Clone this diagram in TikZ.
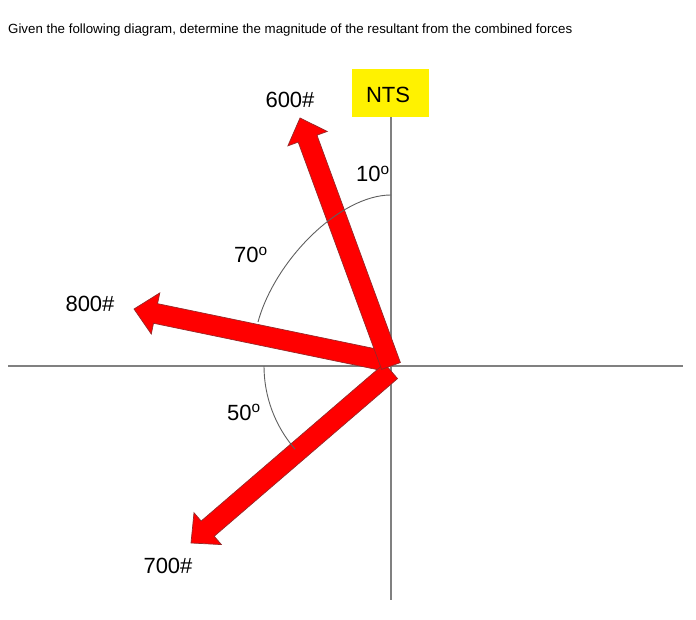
\documentclass[tikz,border=0pt]{standalone}
\usepackage{fontspec}
\setmainfont{Liberation Sans}
\usetikzlibrary{calc}

\definecolor{axisgray}{RGB}{128,128,128}
\definecolor{arcgray}{RGB}{95,95,95}
\definecolor{edgered}{RGB}{150,40,40}

\newcommand{\forcearrow}[2]{%
  \coordinate (#2h) at ($(#2)!22pt!(#1)$);
  \filldraw[forceline]
    ($(#1)!10pt!90:(#2)$) -- ($(#2h)!10pt!90:(#2)$) -- ($(#2h)!21pt!90:(#2)$) -- (#2)
    -- ($(#2h)!21pt!-90:(#2)$) -- ($(#2h)!10pt!-90:(#2)$) -- ($(#1)!10pt!-90:(#2)$) -- cycle;
}

\tikzset{
  forceline/.style={fill=red, draw=edgered, line width=0.7pt, line join=miter},
  axisline/.style={draw=axisgray, line width=1.2pt},
  anglearc/.style={draw=arcgray, line width=0.9pt},
  biglabel/.style={font=\fontsize{22}{26}\selectfont, inner sep=0pt, anchor=base},
}

\begin{document}
\begin{tikzpicture}[x=1pt, y=-1pt]
\useasboundingbox (0,0) rectangle (696,620);
\node[font=\fontsize{13.3}{15}\selectfont, inner sep=0pt, anchor=base west] (q) at (8,34)
  {Given the following diagram, determine the magnitude of the resultant from the combined forces};

% axes
\coordinate (O) at (391,366);
\draw[axisline] (8,366) -- (683,366);
\draw[axisline] (391,70) -- (391,600);

% forces
\coordinate (s800) at (385,361);
\coordinate (t800) at (134,309);
\coordinate (s700) at (391,371);
\coordinate (t700) at (191,543);
\coordinate (s600) at (391,366);
\coordinate (t600) at (300,118);
\forcearrow{s800}{t800}
\forcearrow{s700}{t700}
\forcearrow{s600}{t600}

% angles
\draw[anglearc] (391,195) .. controls (340,195) and (275,260) .. (258,322);
\draw[anglearc] (O) ++(-127,0) arc[start angle=180, end angle=139, radius=127];

\node[fill=yellow, minimum width=77pt, minimum height=48pt, inner sep=0pt] (nts) at (390.5,93) {};
\node[biglabel] (ntstext) at (388,103) {NTS};
\node[biglabel] (f600) at (290,108) {600\#};
\node[biglabel] (f800) at (90,312) {800\#};
\node[biglabel] (f700) at (168,573) {700\#};
\node[biglabel, anchor=base west] (a10) at (356,182) {10\textsuperscript{o}};
\node[biglabel, anchor=base west] (a70) at (234,263) {70\textsuperscript{o}};
\node[biglabel, anchor=base west] (a50) at (227,420) {50\textsuperscript{o}};
\end{tikzpicture}
\end{document}
